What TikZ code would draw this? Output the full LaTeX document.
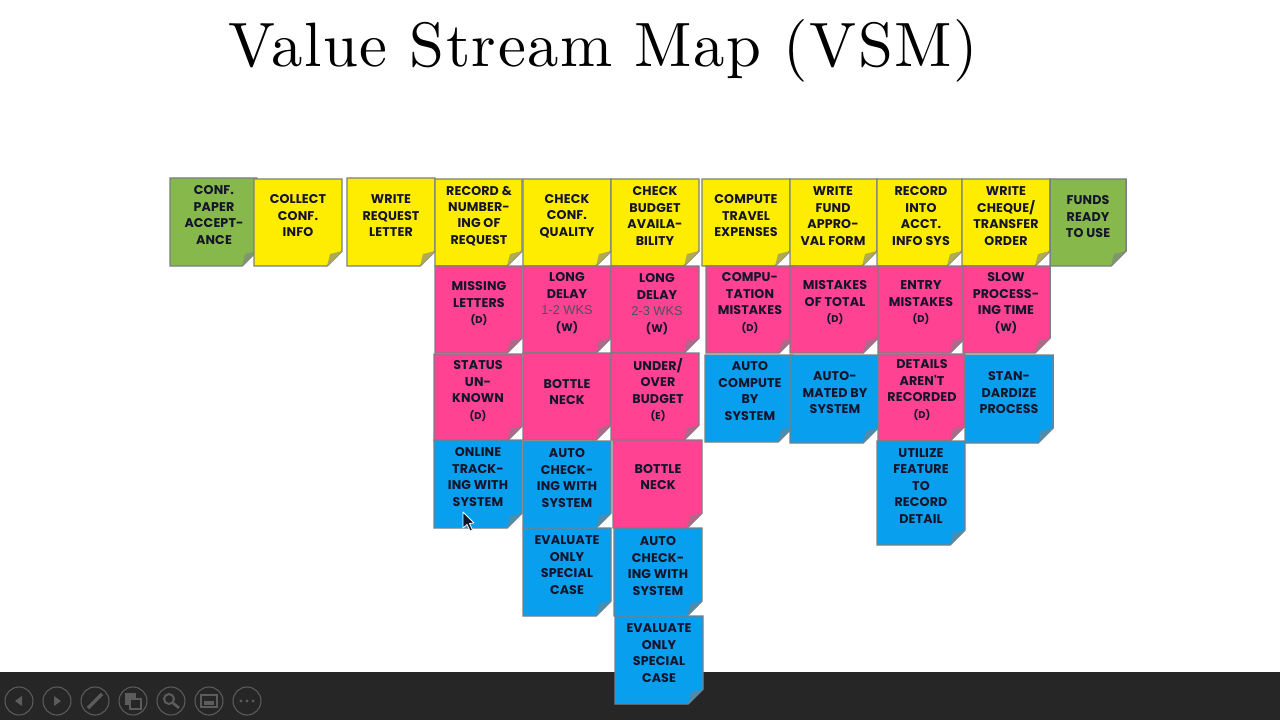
\documentclass[tikz,border=0pt]{standalone}
\usepackage{fontspec}
\newfontfamily\notefont{Poppins}
\newfontfamily\thinfont{Liberation Sans}
\newfontfamily\titlefont[LetterSpace=2.4]{lmroman10-regular.otf}
\definecolor{ngreen}{HTML}{86B84B}
\definecolor{nyellow}{HTML}{FFED00}
\definecolor{npink}{HTML}{FF4392}
\definecolor{nblue}{HTML}{079FEE}
\definecolor{nedge}{HTML}{7A7F85}
\definecolor{barc}{HTML}{262626}
\definecolor{icon}{HTML}{5C5C5C}
\definecolor{ink}{HTML}{14142B}
\tikzset{
  noteedge/.style={draw=nedge,line width=1.1pt,line join=miter},
  notetext/.style={align=center,inner sep=0pt,yshift=-0.7pt,text=ink,font=\notefont\bfseries\addfontfeature{LetterSpace=1}\fontsize{9.5}{12.35}\selectfont},
  toolring/.style={draw=icon,line width=0.8pt,circle,minimum size=21pt,inner sep=0pt},
  toolmark/.style={fill=icon,draw=none}
}
\newcommand{\sm}[1]{{\fontsize{7.4}{12.35}\selectfont #1}}
\newcommand{\wm}[1]{{\fontsize{8.2}{12.35}\selectfont #1}}
\newcommand{\thn}[1]{{\thinfont\mdseries\fontsize{9.6}{12.35}\selectfont\color{ink!75} #1}}
\newcommand{\stickynote}[9]{%
  \draw[noteedge,fill=#6] (#2,#3) -- (#4,#3) -- ({#4},{#5-15}) -- ({#4-15},{#5}) -- (#2,#5) -- cycle;
  \fill[#6!40!nedge] ({#4},{#5-15}) -- ({#4-15},{#5}) -- ({#4-12},{#5-12}) -- cycle;
  \node[notetext] (#1) at (#7,#8) {#9};
}
\begin{document}
\begin{tikzpicture}[x=0.75pt,y=-0.75pt]
\useasboundingbox (0,0) rectangle (1280,720);
\fill[white] (0,0) rectangle (1280,720);
\node[inner sep=0pt,font=\titlefont\fontsize{47}{52}\selectfont] (title) at (603,51) {Value Stream Map (VSM)};
\fill[barc] (0,672) rectangle (1280,720);
% toolbar
\node[toolring] (t1) at (19,701) {};
\node[toolring] (t2) at (57,701) {};
\node[toolring] (t3) at (95,701) {};
\node[toolring] (t4) at (133,701) {};
\node[toolring] (t5) at (171,701) {};
\node[toolring] (t6) at (209,701) {};
\node[toolring] (t7) at (247,701) {};
\fill[toolmark] (15,701) -- (22,696) -- (22,706) -- cycle;
\fill[toolmark] (61,701) -- (54,696) -- (54,706) -- cycle;
\draw[icon,line width=2.4pt] (88,708) -- (102,694);
\fill[icon] (125,693) rectangle (136,705);
\draw[icon,line width=1.2pt,fill=barc] (130,699) rectangle (141,709);
\draw[icon,line width=1.5pt] (169,699) circle (5);
\draw[icon,line width=2pt] (173,703) -- (179,708);
\draw[icon,line width=1pt] (201,695) rectangle (217,707);
\fill[icon] (204,701) rectangle (214,705);
\fill[icon] (241,701) circle (1.7) (247,701) circle (1.7) (253,701) circle (1.7);
% notes
\stickynote{a1}{170}{178}{257}{266}{ngreen}{214}{214}{CONF.\\PAPER\\ACCEPT-\\ANCE}
\stickynote{a2}{254}{179}{342}{266}{nyellow}{298}{215}{COLLECT\\CONF.\\INFO}
\stickynote{a3}{347}{178}{435}{266}{nyellow}{391}{215}{WRITE\\REQUEST\\LETTER}
\stickynote{a4}{435}{179}{522}{266}{nyellow}{479}{215}{RECORD \&\\NUMBER-\\ING OF\\REQUEST}
\stickynote{a5}{523}{179}{611}{266}{nyellow}{567}{215}{CHECK\\CONF.\\QUALITY}
\stickynote{a6}{611}{179}{699}{266}{nyellow}{655}{215}{CHECK\\BUDGET\\AVAILA-\\BILITY}
\stickynote{a7}{702}{179}{790}{266}{nyellow}{746}{215}{COMPUTE\\TRAVEL\\EXPENSES}
\stickynote{a8}{790}{179}{877}{266}{nyellow}{833}{215}{WRITE\\FUND\\APPRO-\\VAL FORM}
\stickynote{a9}{877}{179}{962}{266}{nyellow}{921}{215}{RECORD\\INTO\\ACCT.\\INFO SYS}
\stickynote{a10}{962}{179}{1050}{266}{nyellow}{1006}{215}{WRITE\\CHEQUE/\\TRANSFER\\ORDER}
\stickynote{a11}{1050}{179}{1126}{266}{ngreen}{1088}{216}{FUNDS\\READY\\TO USE}
%
\stickynote{b1}{435}{266}{522}{353}{npink}{479}{303}{MISSING\\LETTERS\\\sm{(D)}}
\stickynote{b2}{523}{266}{611}{353}{npink}{567}{302}{LONG\\DELAY\\\thn{1-2 WKS}\\\wm{(W)}}
\stickynote{b3}{611}{266}{699}{353}{npink}{657}{303}{LONG\\DELAY\\\thn{2-3 WKS}\\\wm{(W)}}
\stickynote{b4}{706}{266}{794}{353}{npink}{750}{302}{COMPU-\\TATION\\MISTAKES\\\sm{(D)}}
\stickynote{b5}{790}{266}{878}{353}{npink}{835}{302}{MISTAKES\\OF TOTAL\\\sm{(D)}}
\stickynote{b6}{878}{266}{965}{353}{npink}{921}{302}{ENTRY\\MISTAKES\\\sm{(D)}}
\stickynote{b7}{963}{266}{1050}{353}{npink}{1006}{302}{SLOW\\PROCESS-\\ING TIME\\\wm{(W)}}
%
\stickynote{c1}{434}{354}{522}{441}{npink}{478}{390}{STATUS\\UN-\\KNOWN\\\sm{(D)}}
\stickynote{c2}{523}{353}{611}{440}{npink}{567}{391}{BOTTLE\\NECK}
\stickynote{c3}{611}{353}{699}{440}{npink}{658}{389}{UNDER/\\OVER\\BUDGET\\\sm{(E)}}
\stickynote{c4}{705}{355}{793}{442}{nblue}{750}{390}{AUTO\\COMPUTE\\BY\\SYSTEM}
\stickynote{c5}{790}{355}{878}{443}{nblue}{835}{392}{AUTO-\\MATED BY\\SYSTEM}
\stickynote{c6}{878}{354}{965}{441}{npink}{922}{389}{DETAILS\\AREN'T\\RECORDED\\\sm{(D)}}
\stickynote{c7}{965}{355}{1053}{443}{nblue}{1009}{392}{STAN-\\DARDIZE\\PROCESS}
%
\stickynote{d1}{434}{440}{522}{528}{nblue}{478}{476}{ONLINE\\TRACK-\\ING WITH\\SYSTEM}
\stickynote{d2}{523}{441}{611}{528}{nblue}{567}{477}{AUTO\\CHECK-\\ING WITH\\SYSTEM}
\stickynote{d3}{613}{440}{702}{528}{npink}{658}{476}{BOTTLE\\NECK}
\stickynote{d4}{877}{441}{965}{545}{nblue}{921}{485}{UTILIZE\\FEATURE\\TO\\RECORD\\DETAIL}
%
\stickynote{e1}{523}{528}{611}{616}{nblue}{567}{564}{EVALUATE\\ONLY\\SPECIAL\\CASE}
\stickynote{e2}{614}{528}{702}{616}{nblue}{658}{565}{AUTO\\CHECK-\\ING WITH\\SYSTEM}
\stickynote{f1}{615}{616}{703}{704}{nblue}{659}{652}{EVALUATE\\ONLY\\SPECIAL\\CASE}
% mouse pointer
\draw[white,fill=ink,line width=0.6pt,line join=round] (463,512) -- (463,528) -- (467,524.5) -- (470,531) -- (472.5,530) -- (469.5,523.5) -- (474,523) -- cycle;
\end{tikzpicture}
\end{document}
